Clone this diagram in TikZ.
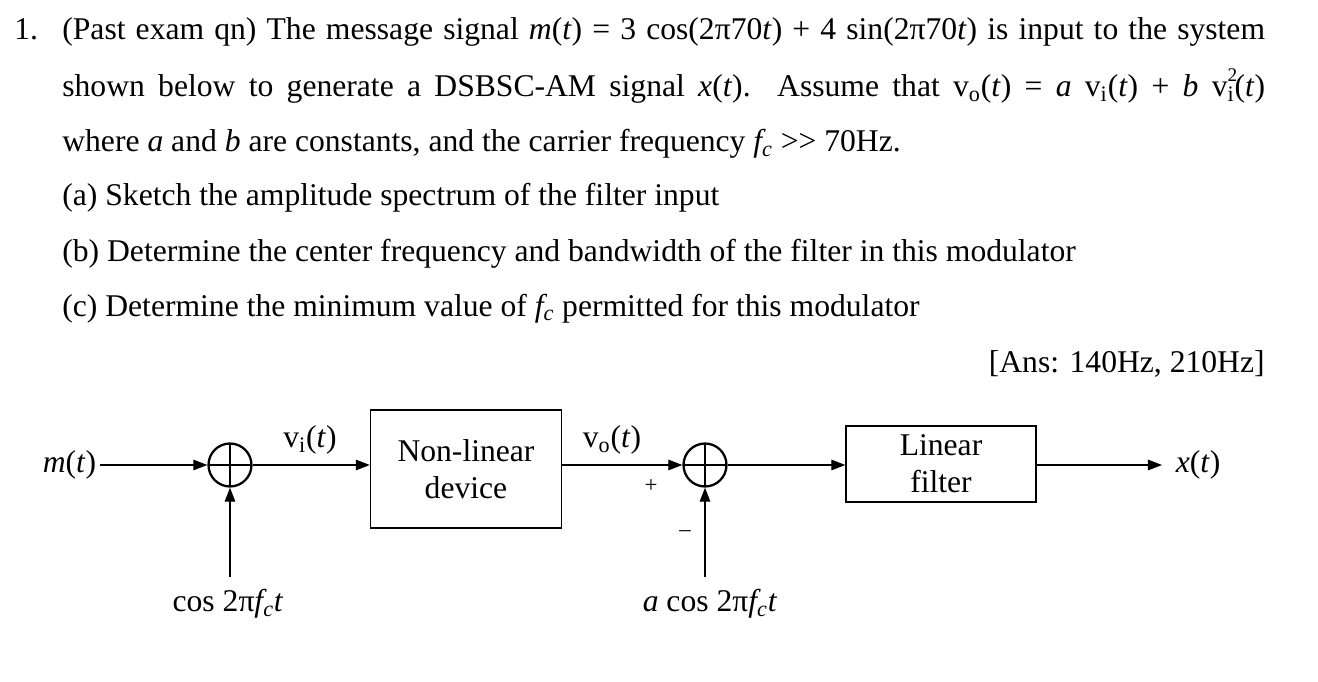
\documentclass[tikz,border=0pt]{standalone}
\usepackage{fontspec}
\setmainfont{Liberation Serif}
\usetikzlibrary{arrows.meta}
\newcommand{\vsub}[1]{v\textsubscript{#1}}
\newcommand{\ipt}{\textit{t}}
\begin{document}
\begin{tikzpicture}[x=0.02cm,y=-0.02cm,font=\fontsize{18}{21}\selectfont,
  txt/.style={anchor=base west,inner sep=0pt},
  blk/.style={draw,line width=0.8pt,inner sep=0pt,align=center},
  sum/.style={draw,circle,line width=1.3pt,minimum size=0.86cm,inner sep=0pt,
    path picture={\draw[line width=1.3pt] (path picture bounding box.north) -- (path picture bounding box.south)
      (path picture bounding box.west) -- (path picture bounding box.east);}},
  arr/.style={-{Triangle[length=8pt,width=6pt]},line width=0.7pt}]
\useasboundingbox (0,0) rectangle (1318,682);
% question text
\node[txt] (n1) at (14,40) {1.};
\node[txt] (l1) at (62,40) {\hbox to 24.06cm{(Past exam qn) The message signal \textit{m}(\ipt) = 3 cos(2π70\ipt) + 4 sin(2π70\ipt) is input to the system}};
\node[txt] (l2) at (62,97) {\hbox to 24.06cm{shown below to generate a DSBSC-AM signal \textit{x}(\ipt).\ \ Assume that \vsub{o}(\ipt) = \textit{a} \vsub{i}(\ipt) + \textit{b} v\rlap{\raisebox{1.1ex}{\fontsize{11}{12}\selectfont 2}}\textsubscript{i}(\ipt)}};
\node[txt] (l3) at (62,152) {where \textit{a} and \textit{b} are constants, and the carrier frequency \textit{f\textsubscript{c}} {>}{>} 70Hz.};
\node[txt] (la) at (62,206) {(a) Sketch the amplitude spectrum of the filter input};
\node[txt] (lb) at (62,261) {(b) Determine the center frequency and bandwidth of the filter in this modulator};
\node[txt] (lc) at (62,316) {(c) Determine the minimum value of \textit{f\textsubscript{c}} permitted for this modulator};
\node[anchor=base east,inner sep=0pt] (ans) at (1265,372) {[Ans: 140Hz, 210Hz]};
% block diagram
\node[anchor=east,inner sep=2pt] (m) at (100,465) {\textit{m}(\ipt)};
\node[sum] (s1) at (230,465) {};
\node[blk,minimum width=3.82cm,minimum height=2.36cm] (nl) at (466,469) {Non-linear\\device};
\node[sum] (s2) at (705,465) {};
\node[blk,minimum width=3.8cm,minimum height=1.52cm] (lf) at (941,464) {Linear\\filter};
\coordinate (out) at (1162,465);
\node[anchor=west,inner sep=2pt] (x) at (1172,465) {\textit{x}(\ipt)};
\coordinate (c1) at (230,577);
\coordinate (c2) at (705,577);
\node (lc1) at (228,604) {cos 2π\textit{f\textsubscript{c}t}};
\node (lc2) at (710,604) {\textit{a} cos 2π\textit{f\textsubscript{c}t}};
\node (vi) at (310,440) {\vsub{i}(\ipt)};
\node (vo) at (612,440) {\vsub{o}(\ipt)};
\node[font=\fontsize{13}{15}\selectfont] (plus) at (651,486) {+};
\node[font=\fontsize{13}{15}\selectfont] (minus) at (685,534) {\textendash};
\draw[arr] (m) -- (s1);
\draw[arr] (s1) -- (nl.west |- s1);
\draw[arr] (nl.east |- s2) -- (s2);
\draw[arr] (s2) -- (lf.west |- s2);
\draw[arr] (lf.east |- out) -- (out);
\draw[arr] (c1) -- (s1);
\draw[arr] (c2) -- (s2);
\end{tikzpicture}
\end{document}
